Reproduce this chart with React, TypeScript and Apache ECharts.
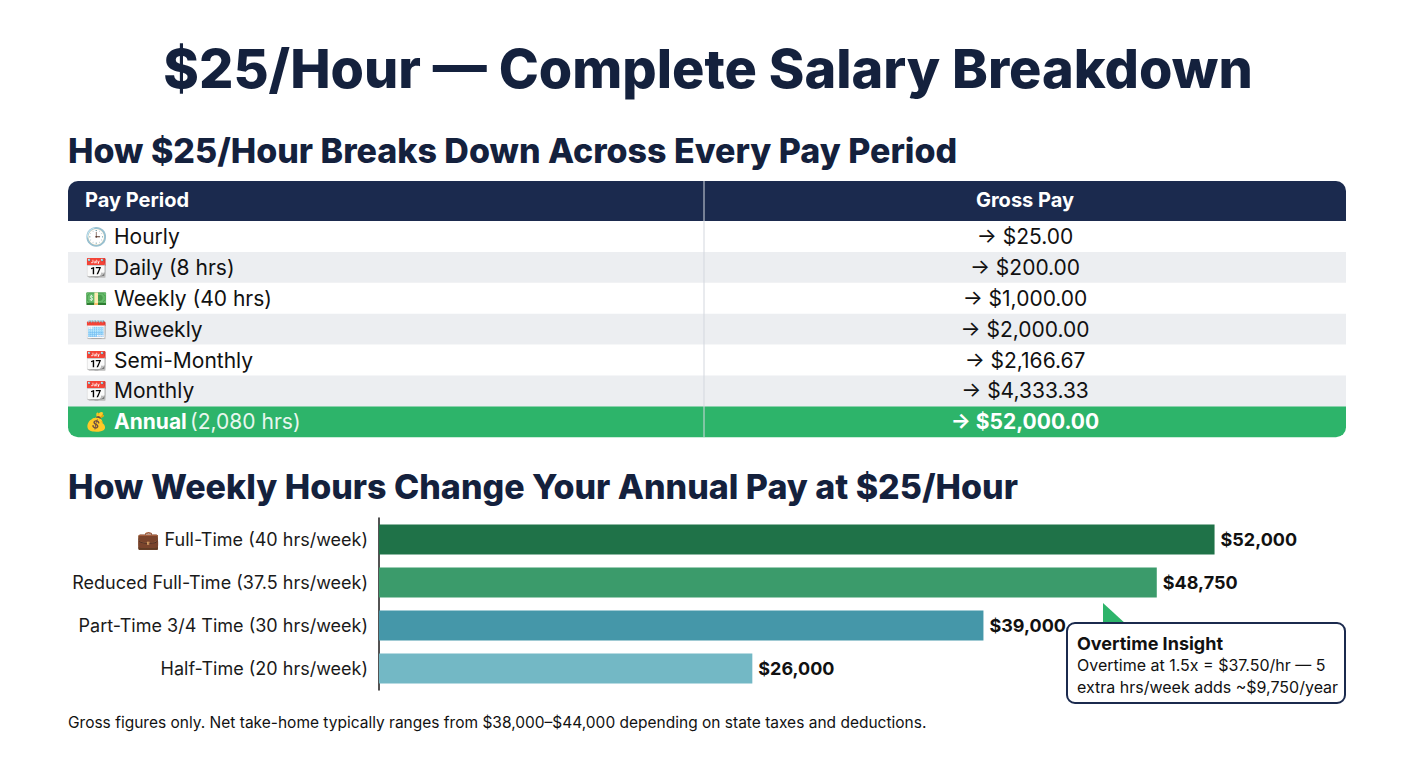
import * as echarts from 'echarts';
import { useEffect, useRef } from 'react';

const payIcons = ['🕒', '📆', '💵', '🗓️', '📆', '📆', '💰'];
const payPeriods = ['Hourly', 'Daily (8 hrs)', 'Weekly (40 hrs)', 'Biweekly', 'Semi-Monthly', 'Monthly', 'Annual'];
const grossPay = [25, 200, 1000, 2000, 2166.67, 4333.33, 52000];

const scenarios = [
  '💼 Full-Time (40 hrs/week)',
  'Reduced Full-Time (37.5 hrs/week)',
  'Part-Time 3/4 Time (30 hrs/week)',
  'Half-Time (20 hrs/week)',
];
const annualPay = [52000, 48750, 39000, 26000];
const barColors = ['#1f7248', '#3b9b6b', '#4597a9', '#73b8c5'];

const NAVY = '#14213d';
const FONT = 'Inter, "Noto Sans", sans-serif';

const money = (v: number, d = 0) =>
  '$' + v.toLocaleString('en-US', { minimumFractionDigits: d, maximumFractionDigits: d });

export default function App() {
  const chartRef = useRef<HTMLDivElement>(null);

  useEffect(() => {
    if (!chartRef.current) return;
    const chart = echarts.init(chartRef.current, undefined, { renderer: 'svg' });

    // table built as graphic elements
    const tableX = 68;
    const tableW = 1278;
    const headTop = 181;
    const headH = 40;
    const rowH = 30.9;
    const divX = 704;
    const valX = 1025;
    const last = payPeriods.length - 1;

    const table: any[] = [
      {
        type: 'rect',
        shape: { x: tableX, y: headTop, width: tableW, height: headH, r: [10, 10, 0, 0] },
        style: { fill: '#1b2a4e' },
      },
      {
        type: 'text',
        x: 85,
        y: headTop + headH / 2 - 1,
        style: { text: 'Pay Period', fill: '#fff', font: `700 20px ${FONT}`, verticalAlign: 'middle' },
      },
      {
        type: 'text',
        x: valX,
        y: headTop + headH / 2 - 1,
        style: { text: 'Gross Pay', fill: '#fff', font: `700 20px ${FONT}`, align: 'center', verticalAlign: 'middle' },
      },
    ];

    payPeriods.forEach((p, i) => {
      const y = headTop + headH + i * rowH;
      const isLast = i === last;
      table.push({
        type: 'rect',
        shape: { x: tableX, y, width: tableW, height: rowH + (isLast ? 0 : 0.5), r: isLast ? [0, 0, 10, 10] : 0 },
        style: { fill: isLast ? '#2db46a' : i % 2 === 0 ? '#ffffff' : '#eceef1' },
      });
      table.push({
        type: 'text',
        x: 85,
        y: y + rowH / 2,
        style: { text: payIcons[i], font: `18px ${FONT}`, verticalAlign: 'middle', fill: '#333' },
      });
      table.push({
        type: 'text',
        x: 114,
        y: y + rowH / 2,
        style: isLast
          ? {
              text: `{b|${p}} {n|(2,080 hrs)}`,
              verticalAlign: 'middle',
              rich: {
                b: { font: `700 21px ${FONT}`, fill: '#fff' },
                n: { font: `400 21px ${FONT}`, fill: '#e8f7ee' },
              },
            }
          : { text: p, font: `400 21px ${FONT}`, fill: '#111', verticalAlign: 'middle' },
      });
      table.push({
        type: 'text',
        x: valX,
        y: y + rowH / 2,
        style: {
          text: '→ ' + money(grossPay[i], 2),
          font: `${isLast ? 700 : 400} 21px ${FONT}`,
          fill: isLast ? '#fff' : '#111',
          align: 'center',
          verticalAlign: 'middle',
        },
      });
    });

    table.push({
      type: 'line',
      shape: { x1: divX, y1: headTop, x2: divX, y2: headTop + headH + rowH * payPeriods.length },
      style: { stroke: '#d3d7de', lineWidth: 1 },
    });

    const option: echarts.EChartsOption = {
      animation: false,
      backgroundColor: '#ffffff',
      grid: { left: 379, top: 518, width: 960, height: 172, containLabel: false },
      xAxis: {
        type: 'value',
        min: 5000,
        max: 59000,
        show: false,
      },
      yAxis: {
        type: 'category',
        inverse: true,
        data: scenarios,
        axisLine: { show: true, lineStyle: { color: '#1a1a1a', width: 1.5 } },
        axisTick: { show: false },
        axisLabel: { color: '#1a1a1a', fontSize: 18, fontFamily: FONT, margin: 11 },
      },
      series: [
        {
          type: 'bar',
          barWidth: 30,
          data: annualPay.map((v, i) => ({ value: v, itemStyle: { color: barColors[i] } })),
          label: {
            show: true,
            position: 'right',
            distance: 6,
            formatter: (p: any) => money(p.value),
            color: '#111',
            fontSize: 18,
            fontWeight: 700,
            fontFamily: FONT,
          },
        },
      ],
      graphic: [
        {
          type: 'text',
          x: 708,
          y: 68,
          style: {
            text: '$25/Hour — Complete Salary Breakdown',
            font: `800 54px ${FONT}`,
            fill: NAVY,
            align: 'center',
            verticalAlign: 'middle',
          },
        },
        {
          type: 'text',
          x: 68,
          y: 150,
          style: {
            text: 'How $25/Hour Breaks Down Across Every Pay Period',
            font: `800 34px ${FONT}`,
            fill: NAVY,
            verticalAlign: 'middle',
          },
        },
        ...table,
        {
          type: 'text',
          x: 68,
          y: 486,
          style: {
            text: 'How Weekly Hours Change Your Annual Pay at $25/Hour',
            font: `800 34px ${FONT}`,
            fill: NAVY,
            verticalAlign: 'middle',
          },
        },
        {
          type: 'polygon',
          shape: { points: [[1103, 603], [1103, 625], [1127, 625]] },
          style: { fill: '#2db46a' },
        },
        {
          type: 'rect',
          shape: { x: 1067, y: 623, width: 278, height: 80, r: 8 },
          style: { fill: '#fff', stroke: '#1b2a4e', lineWidth: 2 },
        },
        {
          type: 'text',
          x: 1077,
          y: 643,
          style: { text: 'Overtime Insight', font: `700 18px ${FONT}`, fill: '#111', verticalAlign: 'middle' },
        },
        {
          type: 'text',
          x: 1077,
          y: 665,
          style: { text: 'Overtime at 1.5x = $37.50/hr — 5', font: `400 16px ${FONT}`, fill: '#111', verticalAlign: 'middle' },
        },
        {
          type: 'text',
          x: 1077,
          y: 687,
          style: { text: 'extra hrs/week adds ~$9,750/year', font: `400 16px ${FONT}`, fill: '#111', verticalAlign: 'middle' },
        },
        {
          type: 'text',
          x: 68,
          y: 722,
          style: {
            text: 'Gross figures only. Net take-home typically ranges from $38,000–$44,000 depending on state taxes and deductions.',
            font: `400 15.5px ${FONT}`,
            fill: '#111',
            verticalAlign: 'middle',
          },
        },
      ],
    };

    chart.setOption(option);
    return () => chart.dispose();
  }, []);

  return (
    <div
      ref={chartRef}
      style={{ position: 'absolute', left: 0, top: 0, width: 1408, height: 768 }}
    />
  );
}
